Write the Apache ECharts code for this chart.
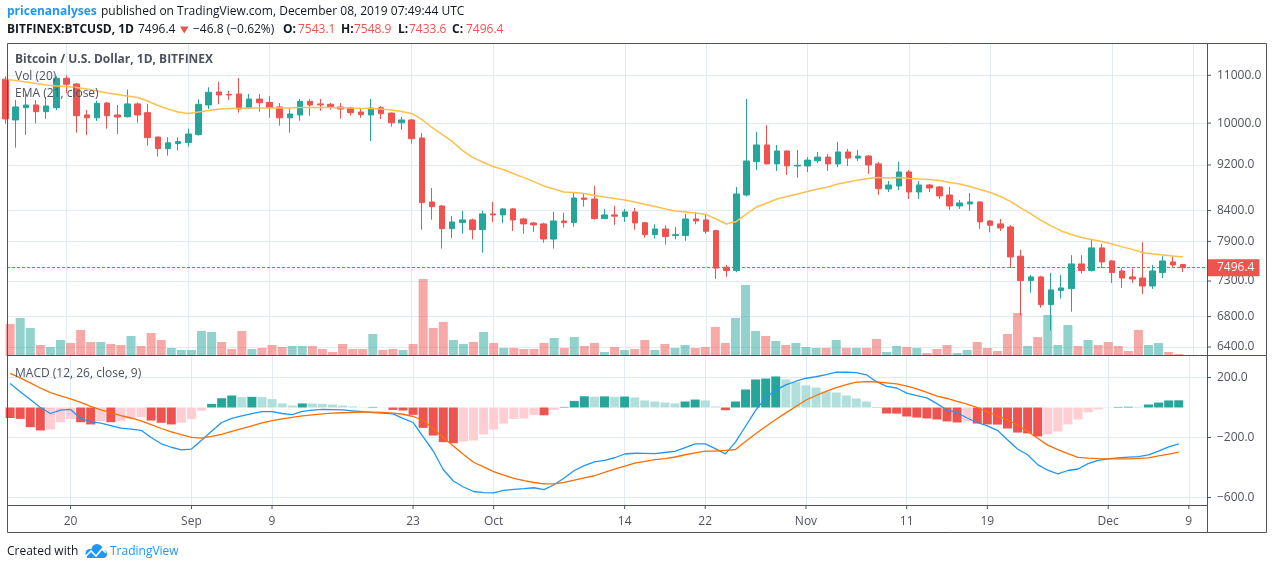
<!DOCTYPE html>
<html><head><meta charset="utf-8">
<script src="https://cdn.jsdelivr.net/npm/echarts@6/dist/echarts.min.js"></script>
<style>html,body{margin:0;padding:0;background:#fff}#c{width:1274px;height:570px}</style>
</head><body><div id="c"></div>
<script>
// ---------------- DATA ----------------
const dates = [
'2019-08-14','2019-08-15','2019-08-16','2019-08-17','2019-08-18','2019-08-19','2019-08-20','2019-08-21','2019-08-22','2019-08-23','2019-08-24','2019-08-25','2019-08-26','2019-08-27','2019-08-28','2019-08-29','2019-08-30','2019-08-31',
'2019-09-01','2019-09-02','2019-09-03','2019-09-04','2019-09-05','2019-09-06','2019-09-07','2019-09-08','2019-09-09','2019-09-10','2019-09-11','2019-09-12','2019-09-13','2019-09-14','2019-09-15','2019-09-16','2019-09-17','2019-09-18','2019-09-19','2019-09-20','2019-09-21','2019-09-22','2019-09-23','2019-09-24','2019-09-25','2019-09-26','2019-09-27','2019-09-28','2019-09-29','2019-09-30',
'2019-10-01','2019-10-02','2019-10-03','2019-10-04','2019-10-05','2019-10-06','2019-10-07','2019-10-08','2019-10-09','2019-10-10','2019-10-11','2019-10-12','2019-10-13','2019-10-14','2019-10-15','2019-10-16','2019-10-17','2019-10-18','2019-10-19','2019-10-20','2019-10-21','2019-10-22','2019-10-23','2019-10-24','2019-10-25','2019-10-26','2019-10-27','2019-10-28','2019-10-29','2019-10-30','2019-10-31',
'2019-11-01','2019-11-02','2019-11-03','2019-11-04','2019-11-05','2019-11-06','2019-11-07','2019-11-08','2019-11-09','2019-11-10','2019-11-11','2019-11-12','2019-11-13','2019-11-14','2019-11-15','2019-11-16','2019-11-17','2019-11-18','2019-11-19','2019-11-20','2019-11-21','2019-11-22','2019-11-23','2019-11-24','2019-11-25','2019-11-26','2019-11-27','2019-11-28','2019-11-29','2019-11-30',
'2019-12-01','2019-12-02','2019-12-03','2019-12-04','2019-12-05','2019-12-06','2019-12-07','2019-12-08'];

const open = [
10913,10063,10312,10368,10230,10312,10934,10811,10163,10106,10408,10163,10127,10390,10210,9727,9504,9601,
9620,9773,10368,10640,10588,10598,10312,10491,10422,10327,10106,10163,10443,10390,10382,10327,10305,10224,10163,10312,10203,10006,10063,9708,8546,8478,8103,8201,8245,8087,
8345,8328,8428,8261,8195,8180,7937,8228,8201,8614,8597,8266,8328,8301,8378,8199,8007,8098,7992,7992,8261,8245,8071,7503,7453,8665,9260,9574,9219,9460,9181,
9181,9276,9345,9219,9441,9326,9364,9219,8769,8822,9072,8717,8840,8805,8665,8478,8512,8546,8228,8180,8131,7670,7306,7360,6964,7162,7190,7553,7453,7798,
7598,7448,7360,7344,7228,7424,7583,7543.1];

const high = [
10980,10470,10598,10470,10528,10980,11000,10830,10264,10457,10430,10368,10690,10420,10390,9730,9722,9722,
9889,10486,10740,10854,10665,10941,10598,10598,10555,10408,10297,10491,10491,10491,10408,10408,10327,10285,10491,10347,10210,10121,10083,9805,8787,8495,8311,8395,8266,8395,
8546,8440,8445,8278,8212,8200,8381,8365,8717,8683,8822,8428,8478,8428,8445,8212,8174,8158,8131,8345,8378,8345,8087,7538,8805,10491,9825,9963,9574,9470,9479,
9345,9441,9400,9633,9498,9479,9383,9256,8910,9256,9108,8910,8858,8822,8805,8580,8700,8560,8245,8261,8160,7767,7390,7375,7420,7390,7685,7685,7938,7860,
7610,7490,7483,7889,7538,7670,7670,7548.9];

const low = [
9985,9523,9767,9995,10089,10264,10614,9811,9767,10043,9889,9786,10110,10006,9561,9355,9373,9466,
9543,9754,10285,10382,10470,10210,10285,10230,10106,9949,9811,10049,10149,10251,10270,10089,10149,10106,9650,10083,9930,9870,9601,8087,8250,7787,7953,8023,7932,7725,
8212,8190,8066,8023,8050,7880,7787,8120,8136,8466,8250,8260,8164,8212,8087,7960,7944,7850,7932,7910,8174,8023,7330,7360,7429,8640,9108,9210,9090,9018,8970,
9072,9237,9090,9158,9181,9273,9037,8665,8717,8753,8597,8597,8717,8597,8411,8428,8395,8098,8045,8066,7492,6813,7133,6922,6613,7048,6868,7409,7440,7490,
7272,7200,7272,7114,7186,7344,7492,7433.6];

const close = [
10083,10327,10368,10230,10347,10934,10805,10149,10106,10402,10149,10121,10390,10163,9714,9504,9614,9639,
9786,10382,10634,10576,10576,10285,10491,10414,10312,10106,10183,10443,10368,10370,10320,10285,10210,10170,10305,10190,10006,10063,9695,8534,8466,8103,8212,8245,8087,8345,
8328,8428,8245,8180,8164,7937,8228,8201,8614,8590,8266,8328,8307,8378,8195,8007,8098,7976,8007,8261,8228,8061,7490,7453,8683,9273,9574,9219,9460,9181,9194,
9289,9345,9219,9441,9326,9364,9200,8775,8840,9072,8717,8840,8787,8649,8478,8529,8546,8212,8158,8114,7659,7306,7360,6964,7172,7200,7553,7453,7798,7583,
7424,7344,7330,7228,7448,7598,7538,7496.4];

const volume = [
22400,26600,19600,7700,6300,11200,9100,18200,9800,9800,8400,7700,14000,7000,16100,11200,5600,4200,
4200,17500,16800,9800,4900,17500,4900,5600,7700,6300,7000,7000,7000,4900,2800,8400,4900,4900,15400,4200,4900,4200,8400,53900,19600,23800,11200,8400,9800,16800,
9100,5600,5600,4900,4900,9100,12600,5600,13300,7000,9100,2800,6300,4200,4900,11200,4200,8400,5600,7700,5600,6300,20300,9100,26600,49700,17500,14000,10500,7700,9100,
6300,5600,5600,11200,5600,5600,5600,11900,2800,7000,6300,5600,2100,4900,7700,2100,4200,9800,5600,3500,15400,30100,7000,13300,28700,7700,21700,7000,11200,7700,
9800,7000,3500,18200,7700,9100,2800,1400];

const ema21 = [
10913,10887,10854,10822,10789,10768,10757,10736,10704,10661,10619,10587,10555,10524,10451,10358,10286,10225,
10194,10225,10255,10286,10296,10296,10306,10306,10306,10306,10306,10317,10317,10317,10317,10313,10306,10300,10296,10286,10265,10235,10194,10073,9913,9780,9641,9470,9340,9254,
9172,9118,9045,8974,8903,8823,8770,8718,8709,8692,8658,8632,8606,8580,8546,8504,8470,8428,8394,8378,8361,8336,8261,8179,8220,8345,8461,8529,8597,8640,8683,
8726,8770,8805,8858,8894,8930,8956,8974,8965,8974,8956,8947,8938,8920,8885,8858,8814,8761,8709,8640,8555,8445,8345,8237,8147,8066,8010,7962,7931,7899,
7860,7814,7775,7728,7705,7690,7674,7659];

const macdLine = [
160,105,53,0,-40,-18,-13,-72,-94,-104,-121,-138,-144,-152,-200,-242,-265,-282,
-277,-218,-158,-100,-73,-56,-41,-27,-28,-40,-47,-26,-17,-13,-14,-16,-22,-28,-34,-38,-43,-72,-100,-196,-290,-415,-490,-530,-560,-568,
-569,-553,-546,-541,-535,-547,-515,-470,-420,-387,-362,-352,-335,-310,-305,-306,-307,-300,-293,-268,-242,-242,-274,-309,-231,-125,-19,64,116,151,175,
195,205,219,236,235,233,218,172,141,130,96,79,64,26,-17,-35,-70,-100,-123,-152,-215,-277,-315,-381,-418,-442,-420,-410,-374,-353,
-343,-336,-331,-327,-316,-291,-262,-243];

const signalLine = [
228,197,164,130,99,78,58,34,8,-16,-35,-54,-70,-89,-114,-140,-162,-181,
-199,-204,-192,-179,-160,-141,-122,-103,-87,-76,-66,-56,-49,-43,-38,-35,-33,-31,-31,-32,-38,-45,-60,-85,-142,-200,-257,-313,-365,-396,
-427,-451,-472,-488,-500,-509,-509,-499,-484,-469,-455,-433,-411,-391,-371,-359,-347,-341,-330,-315,-302,-291,-291,-286,-280,-226,-175,-127,-80,-36,7,
50,80,107,132,152,169,172,170,164,157,142,124,101,76,60,41,23,0,-29,-55,-82,-117,-159,-205,-251,-281,-308,-333,-338,-341,
-342,-342,-342,-339,-336,-323,-311,-298];

const macdHist = [
-70,-76,-131,-153,-147,-98,-76,-98,-113,-91,-98,-91,-76,-64,-87,-102,-113,-102,
-78,-22,24,62,80,69,71,69,56,27,13,27,26,24,20,13,7,2,4,1,-16,-20,-49,-136,-187,-231,-238,-227,-220,-180,
-147,-107,-76,-73,-49,-52,-16,4,44,75,72,74,71,73,67,47,40,33,27,40,53,47,7,-18,40,120,187,193,207,187,169,
147,133,107,100,80,60,40,-2,-40,-41,-60,-67,-73,-80,-93,-100,-93,-107,-113,-114,-140,-167,-173,-193,-180,-160,-113,-80,-33,-13,
-2,4,5,4,20,33,47,48];

const priceTicks = [11000, 10000, 9200, 8400, 7900, 7300, 6800, 6400];
const macdTicks = [200, -200, -600];
const xTickDates = ['2019-08-20','2019-09-01','2019-09-09','2019-09-23','2019-10-01','2019-10-14','2019-10-22','2019-11-01','2019-11-11','2019-11-19','2019-12-01','2019-12-09'];
const xTickLabels = ['20','Sep','9','23','Oct','14','22','Nov','11','19','Dec','9'];
const lastPrice = 7496.4;

// ---------------- LAYOUT / STYLE ----------------
const DAY = 86400000;
function ts(s){ const p = s.split('-'); return Date.UTC(+p[0], +p[1]-1, +p[2]); }
const T = dates.map(ts);
const X_MIN = ts('2019-08-20') - 5.862*DAY, X_MAX = ts('2019-08-20') + 112.36*DAY;
const P_MIN = 6286.6, P_MAX = 11731;
const V_MAX = 53900;
const M_MIN = -650, M_MAX = 343.3;
const UP = '#26a69a', DOWN = '#ef5350';
const FONT = "'Open Sans', sans-serif";
const TXT = '#50535e', GRIDC = '#e1ecf2', FRAME = '#50535e';
const xTickTs = xTickDates.map(ts);

const candleData = T.map((t,i)=>[t, open[i], close[i], low[i], high[i]]);
const volData = T.map((t,i)=>({value:[t, volume[i]], itemStyle:{color: close[i] >= open[i] ? 'rgba(38,166,154,0.5)' : 'rgba(239,83,80,0.5)'}}));
const histData = T.map((t,i)=>{
  const v = macdHist[i], pv = i > 0 ? macdHist[i-1] : 0;
  let c;
  if (v >= 0) c = v > pv ? '#26a69a' : '#b2dfdb';
  else c = v < pv ? '#ef5350' : '#ffcdd2';
  return {value:[t, v], itemStyle:{color:c}};
});

const RICH_Y = {
  t: {width: 4, height: 1, backgroundColor: FRAME, verticalAlign: 'middle'},
  v: {padding: [0,0,0,6], color: TXT, fontSize: 12, fontFamily: FONT, verticalAlign: 'middle'}
};
const RICH_X = {
  t: {width: 1, height: 4, backgroundColor: FRAME, align: 'center'},
  v: {padding: [7,0,0,0], color: TXT, fontSize: 12, fontFamily: FONT, align: 'center'}
};
function fmtNum(v){ return (v < 0 ? '\u2212' : '') + Math.abs(v).toFixed(1); }

const priceMarks = []
  .concat(priceTicks.map(v => ({yAxis: v, label: {show: true, position: 'end', distance: 0, formatter: '{t|}{v|' + fmtNum(v) + '}', rich: RICH_Y}})))
  .concat(xTickTs.map(t => ({xAxis: t})))
  .concat([{yAxis: lastPrice, lineStyle: {color: DOWN, type: [3,2], width: 1},
    label: {show: true, position: 'end', distance: 0, formatter: lastPrice.toFixed(1), color: '#ffffff', backgroundColor: DOWN,
      padding: [3,5,2,10], fontSize: 12, fontFamily: FONT}}]);

const macdMarks = []
  .concat(macdTicks.map(v => ({yAxis: v, label: {show: true, position: 'end', distance: 0, formatter: '{t|}{v|' + fmtNum(v) + '}', rich: RICH_Y}})))
  .concat(xTickTs.map((t,i) => ({xAxis: t, label: {show: true, position: 'start', distance: 0, formatter: '{t|}\n{v|' + xTickLabels[i] + '}', rich: RICH_X}})));

function hiddenX(g){ return {type:'time', gridIndex:g, min:X_MIN, max:X_MAX, show:false, axisLabel:{show:false}, axisTick:{show:false}, axisLine:{show:false}, splitLine:{show:false}}; }

function txt(x, y, s, fill, bold){
  return {type:'text', z:100, silent:true, x:x, y:y, style:{text:s, verticalAlign:'middle', align:'left', fontSize:12, fontWeight: bold ? 'bold' : 'normal', fontFamily:FONT, fill:fill}};
}

const option = {
  animation: false,
  backgroundColor: '#ffffff',
  textStyle: {fontFamily: FONT},
  grid: [
    {left: 7, top: 43, width: 1200, height: 313},
    {left: 7, top: 279, width: 1200, height: 77},
    {left: 7, top: 356, width: 1200, height: 149}
  ],
  xAxis: [hiddenX(0), hiddenX(1), hiddenX(2)],
  yAxis: [
    {type:'log', gridIndex:0, min:P_MIN, max:P_MAX, position:'right', axisLine:{show:false}, axisTick:{show:false}, axisLabel:{show:false}, splitLine:{show:false}},
    {type:'value', gridIndex:1, min:0, max:V_MAX, show:false, splitLine:{show:false}},
    {type:'value', gridIndex:2, min:M_MIN, max:M_MAX, position:'right', show:false, axisLine:{show:false}, axisTick:{show:false}, axisLabel:{show:false}, splitLine:{show:false}}
  ],
  series: [
    {type:'candlestick', name:'BTCUSD', xAxisIndex:0, yAxisIndex:0, data: candleData, barWidth: 6, z: 3,
     itemStyle:{color: UP, color0: DOWN, borderColor: UP, borderColor0: DOWN, borderWidth: 1},
     markLine:{silent:true, symbol:['none','none'], z:1, animation:false, lineStyle:{color:GRIDC, width:1, type:'solid'},
       label:{show:false}, emphasis:{disabled:true}, data: priceMarks}},
    {type:'line', name:'EMA 21', xAxisIndex:0, yAxisIndex:0, data: T.map((t,i)=>[t, ema21[i]]), showSymbol:false, z:4,
     lineStyle:{color:'#fbc04f', width:1.5}},
    {type:'bar', name:'Volume', xAxisIndex:1, yAxisIndex:1, data: volData, barWidth: 9, z: 2},
    {type:'bar', name:'Histogram', xAxisIndex:2, yAxisIndex:2, data: histData, barWidth: 9, z: 2,
     markLine:{silent:true, symbol:['none','none'], z:1, animation:false, lineStyle:{color:GRIDC, width:1, type:'solid'},
       label:{show:false}, emphasis:{disabled:true}, data: macdMarks}},
    {type:'line', name:'MACD', xAxisIndex:2, yAxisIndex:2, data: T.map((t,i)=>[t, macdLine[i]]), showSymbol:false, z:4,
     lineStyle:{color:'#2196f3', width:1.3}},
    {type:'line', name:'Signal', xAxisIndex:2, yAxisIndex:2, data: T.map((t,i)=>[t, signalLine[i]]), showSymbol:false, z:4,
     lineStyle:{color:'#ff6d00', width:1.3}}
  ],
  graphic: [
    {type:'rect', z:50, silent:true, shape:{x:7.5, y:43.5, width:1259, height:489}, style:{fill:'none', stroke:FRAME, lineWidth:1}},
    {type:'line', z:50, silent:true, shape:{x1:1207.5, y1:43, x2:1207.5, y2:533}, style:{stroke:FRAME, lineWidth:1}},
    {type:'line', z:50, silent:true, shape:{x1:7, y1:355.5, x2:1267, y2:355.5}, style:{stroke:FRAME, lineWidth:1}},
    {type:'line', z:50, silent:true, shape:{x1:7, y1:505.5, x2:1207, y2:505.5}, style:{stroke:FRAME, lineWidth:1}},
    // header line 1
    txt(7, 12, 'pricenanalyses', '#2196f3', true),
    txt(101, 12, 'published on TradingView.com, December 08, 2019 07:49:44 UTC', '#131722', false),
    // header line 2
    txt(7, 30, 'BITFINEX:BTCUSD, 1D', '#131722', true),
    txt(138, 30, '7496.4', '#131722', false),
    {type:'polygon', z:100, silent:true, shape:{points:[[180,26.5],[188.5,26.5],[184.25,33.5]]}, style:{fill:'#ef5350'}},
    txt(193, 30, '\u221246.8 (\u22120.62%)', '#131722', false),
    txt(283, 30, 'O:', '#131722', true), txt(298, 30, '7543.1', '#ef5350', false),
    txt(341, 30, 'H:', '#131722', true), txt(354, 30, '7548.9', '#ef5350', false),
    txt(398, 30, 'L:', '#131722', true), txt(409, 30, '7433.6', '#ef5350', false),
    txt(452, 30, 'C:', '#131722', true), txt(466, 30, '7496.4', '#ef5350', false),
    // pane labels
    txt(15, 60, 'Bitcoin / U.S. Dollar, 1D, BITFINEX', '#4c525e', true),
    txt(15, 77, 'Vol (20)', '#4c525e', false),
    txt(15, 94, 'EMA (21, close)', '#4c525e', false),
    txt(15, 374, 'MACD (12, 26, close, 9)', '#4c525e', false),
    // footer
    txt(7, 552, 'Created with', '#131722', false),
    {type:'group', z:100, silent:true, children:[
      {type:'circle', shape:{cx:90, cy:553.5, r:4.5}, style:{fill:'#2196f3'}},
      {type:'circle', shape:{cx:97, cy:549.5, r:5.5}, style:{fill:'#2196f3'}},
      {type:'circle', shape:{cx:103, cy:554, r:4}, style:{fill:'#2196f3'}},
      {type:'rect', shape:{x:87, y:553, width:17, height:5}, style:{fill:'#2196f3'}},
      {type:'polyline', shape:{points:[[85,557],[91,551],[96,556],[102,549],[106,553]]}, style:{stroke:'#ffffff', fill:'none', lineWidth:1.6}}
    ]},
    txt(110, 552, 'TradingView', '#2196f3', false)
  ]
};

const chart = echarts.init(document.getElementById('c'), null, {renderer:'canvas'});
chart.setOption(option);
</script>
</body></html>
